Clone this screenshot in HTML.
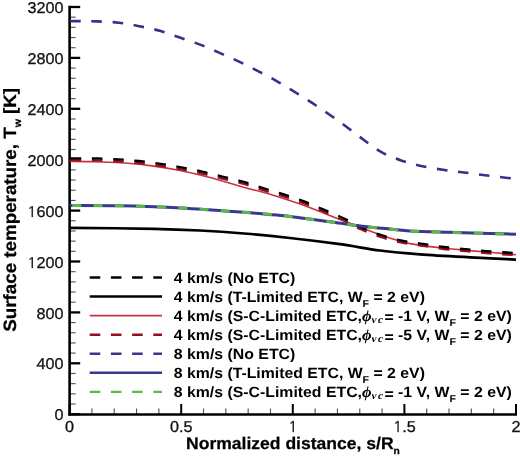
<!DOCTYPE html>
<html><head><meta charset="utf-8"><style>
html,body{margin:0;padding:0;background:#fff;}
svg{display:block;filter:blur(0.4px);}
text{font-family:"Liberation Sans",Arial,sans-serif;text-rendering:geometricPrecision;}
.one{font-family:"NanumGothic","Liberation Sans",sans-serif;font-size:0.94em;}
.tl{font-size:15.6px;fill:#111;stroke:#111;stroke-width:0.3px;}
.leg{font-size:14.8px;font-weight:bold;fill:#000;}
.sub{font-size:10px;}
.phi{font-family:"Liberation Serif",serif;font-style:italic;font-weight:bold;font-size:15.5px;}
.vc{font-family:"Liberation Serif",serif;font-style:italic;font-weight:bold;font-size:10.6px;letter-spacing:1.3px;}
.ttl{font-size:16.8px;font-weight:bold;fill:#000;stroke:#000;stroke-width:0.25px;}
.ttl.yt{font-size:17.8px;}
</style></head><body>
<svg width="520" height="456" viewBox="0 0 520 456">
<rect width="520" height="456" fill="#fff"/>
<g><line x1="69.60" y1="414.20" x2="80.2" y2="414.20" stroke="#000" stroke-width="2.3"/><line x1="69.60" y1="404.02" x2="75.6" y2="404.02" stroke="#555" stroke-width="1.15"/><line x1="69.60" y1="393.84" x2="75.6" y2="393.84" stroke="#555" stroke-width="1.15"/><line x1="69.60" y1="383.66" x2="75.6" y2="383.66" stroke="#555" stroke-width="1.15"/><line x1="69.60" y1="373.48" x2="75.6" y2="373.48" stroke="#555" stroke-width="1.15"/><line x1="69.60" y1="363.30" x2="80.2" y2="363.30" stroke="#000" stroke-width="2.3"/><line x1="69.60" y1="353.12" x2="75.6" y2="353.12" stroke="#555" stroke-width="1.15"/><line x1="69.60" y1="342.94" x2="75.6" y2="342.94" stroke="#555" stroke-width="1.15"/><line x1="69.60" y1="332.76" x2="75.6" y2="332.76" stroke="#555" stroke-width="1.15"/><line x1="69.60" y1="322.58" x2="75.6" y2="322.58" stroke="#555" stroke-width="1.15"/><line x1="69.60" y1="312.40" x2="80.2" y2="312.40" stroke="#000" stroke-width="2.3"/><line x1="69.60" y1="302.22" x2="75.6" y2="302.22" stroke="#555" stroke-width="1.15"/><line x1="69.60" y1="292.04" x2="75.6" y2="292.04" stroke="#555" stroke-width="1.15"/><line x1="69.60" y1="281.86" x2="75.6" y2="281.86" stroke="#555" stroke-width="1.15"/><line x1="69.60" y1="271.68" x2="75.6" y2="271.68" stroke="#555" stroke-width="1.15"/><line x1="69.60" y1="261.50" x2="80.2" y2="261.50" stroke="#000" stroke-width="2.3"/><line x1="69.60" y1="251.32" x2="75.6" y2="251.32" stroke="#555" stroke-width="1.15"/><line x1="69.60" y1="241.14" x2="75.6" y2="241.14" stroke="#555" stroke-width="1.15"/><line x1="69.60" y1="230.96" x2="75.6" y2="230.96" stroke="#555" stroke-width="1.15"/><line x1="69.60" y1="220.78" x2="75.6" y2="220.78" stroke="#555" stroke-width="1.15"/><line x1="69.60" y1="210.60" x2="80.2" y2="210.60" stroke="#000" stroke-width="2.3"/><line x1="69.60" y1="200.42" x2="75.6" y2="200.42" stroke="#555" stroke-width="1.15"/><line x1="69.60" y1="190.24" x2="75.6" y2="190.24" stroke="#555" stroke-width="1.15"/><line x1="69.60" y1="180.06" x2="75.6" y2="180.06" stroke="#555" stroke-width="1.15"/><line x1="69.60" y1="169.88" x2="75.6" y2="169.88" stroke="#555" stroke-width="1.15"/><line x1="69.60" y1="159.70" x2="80.2" y2="159.70" stroke="#000" stroke-width="2.3"/><line x1="69.60" y1="149.52" x2="75.6" y2="149.52" stroke="#555" stroke-width="1.15"/><line x1="69.60" y1="139.34" x2="75.6" y2="139.34" stroke="#555" stroke-width="1.15"/><line x1="69.60" y1="129.16" x2="75.6" y2="129.16" stroke="#555" stroke-width="1.15"/><line x1="69.60" y1="118.98" x2="75.6" y2="118.98" stroke="#555" stroke-width="1.15"/><line x1="69.60" y1="108.80" x2="80.2" y2="108.80" stroke="#000" stroke-width="2.3"/><line x1="69.60" y1="98.62" x2="75.6" y2="98.62" stroke="#555" stroke-width="1.15"/><line x1="69.60" y1="88.44" x2="75.6" y2="88.44" stroke="#555" stroke-width="1.15"/><line x1="69.60" y1="78.26" x2="75.6" y2="78.26" stroke="#555" stroke-width="1.15"/><line x1="69.60" y1="68.08" x2="75.6" y2="68.08" stroke="#555" stroke-width="1.15"/><line x1="69.60" y1="57.90" x2="80.2" y2="57.90" stroke="#000" stroke-width="2.3"/><line x1="69.60" y1="47.72" x2="75.6" y2="47.72" stroke="#555" stroke-width="1.15"/><line x1="69.60" y1="37.54" x2="75.6" y2="37.54" stroke="#555" stroke-width="1.15"/><line x1="69.60" y1="27.36" x2="75.6" y2="27.36" stroke="#555" stroke-width="1.15"/><line x1="69.60" y1="17.18" x2="75.6" y2="17.18" stroke="#555" stroke-width="1.15"/><line x1="69.60" y1="7.00" x2="80.2" y2="7.00" stroke="#000" stroke-width="2.3"/><line x1="69.60" y1="414.20" x2="69.60" y2="404" stroke="#000" stroke-width="2"/><line x1="91.92" y1="414.20" x2="91.92" y2="408.5" stroke="#555" stroke-width="1.15"/><line x1="114.24" y1="414.20" x2="114.24" y2="408.5" stroke="#555" stroke-width="1.15"/><line x1="136.56" y1="414.20" x2="136.56" y2="408.5" stroke="#555" stroke-width="1.15"/><line x1="158.88" y1="414.20" x2="158.88" y2="408.5" stroke="#555" stroke-width="1.15"/><line x1="181.20" y1="414.20" x2="181.20" y2="404" stroke="#000" stroke-width="2"/><line x1="203.52" y1="414.20" x2="203.52" y2="408.5" stroke="#555" stroke-width="1.15"/><line x1="225.84" y1="414.20" x2="225.84" y2="408.5" stroke="#555" stroke-width="1.15"/><line x1="248.16" y1="414.20" x2="248.16" y2="408.5" stroke="#555" stroke-width="1.15"/><line x1="270.48" y1="414.20" x2="270.48" y2="408.5" stroke="#555" stroke-width="1.15"/><line x1="292.80" y1="414.20" x2="292.80" y2="404" stroke="#000" stroke-width="2"/><line x1="315.12" y1="414.20" x2="315.12" y2="408.5" stroke="#555" stroke-width="1.15"/><line x1="337.44" y1="414.20" x2="337.44" y2="408.5" stroke="#555" stroke-width="1.15"/><line x1="359.76" y1="414.20" x2="359.76" y2="408.5" stroke="#555" stroke-width="1.15"/><line x1="382.08" y1="414.20" x2="382.08" y2="408.5" stroke="#555" stroke-width="1.15"/><line x1="404.40" y1="414.20" x2="404.40" y2="404" stroke="#000" stroke-width="2"/><line x1="426.72" y1="414.20" x2="426.72" y2="408.5" stroke="#555" stroke-width="1.15"/><line x1="449.04" y1="414.20" x2="449.04" y2="408.5" stroke="#555" stroke-width="1.15"/><line x1="471.36" y1="414.20" x2="471.36" y2="408.5" stroke="#555" stroke-width="1.15"/><line x1="493.68" y1="414.20" x2="493.68" y2="408.5" stroke="#555" stroke-width="1.15"/><line x1="516.00" y1="414.20" x2="516.00" y2="404" stroke="#000" stroke-width="2"/></g>
<line x1="69.60" y1="5.8" x2="69.60" y2="415.6" stroke="#000" stroke-width="2.6"/>
<line x1="68.3" y1="414.45" x2="517" y2="414.45" stroke="#000" stroke-width="2.5"/>
<g class="tl"><text transform="translate(63.4,420.30) scale(1.038,1)" text-anchor="end">0</text><text transform="translate(63.4,369.40) scale(1.038,1)" text-anchor="end">400</text><text transform="translate(63.4,318.50) scale(1.038,1)" text-anchor="end">800</text><text transform="translate(63.4,267.60) scale(1.038,1)" text-anchor="end"><tspan class="one">1</tspan>200</text><text transform="translate(63.4,216.70) scale(1.038,1)" text-anchor="end"><tspan class="one">1</tspan>600</text><text transform="translate(63.4,165.80) scale(1.038,1)" text-anchor="end">2000</text><text transform="translate(63.4,114.90) scale(1.038,1)" text-anchor="end">2400</text><text transform="translate(63.4,64.00) scale(1.038,1)" text-anchor="end">2800</text><text transform="translate(63.4,13.10) scale(1.038,1)" text-anchor="end">3200</text><text style="font-size:15.8px" transform="translate(69.60,431.5) scale(1.025,1)" text-anchor="middle">0</text><text style="font-size:15.8px" transform="translate(181.20,431.5) scale(1.025,1)" text-anchor="middle">0.5</text><text style="font-size:15.8px" transform="translate(292.80,431.5) scale(1.025,1)" text-anchor="middle"><tspan class="one">1</tspan></text><text style="font-size:15.8px" transform="translate(404.40,431.5) scale(1.025,1)" text-anchor="middle"><tspan class="one">1</tspan>.5</text><text style="font-size:15.8px" transform="translate(516.00,431.5) scale(1.025,1)" text-anchor="middle">2</text></g>
<g>
 <path d="M69.60,227.80 C83.67,227.97 132.27,228.35 154.00,228.80 C175.73,229.25 185.00,229.72 200.00,230.50 C215.00,231.28 229.00,232.25 244.00,233.50 C259.00,234.75 274.00,236.22 290.00,238.00 C306.00,239.78 325.00,242.12 340.00,244.20 C355.00,246.28 366.67,248.82 380.00,250.50 C393.33,252.18 405.00,253.17 420.00,254.30 C435.00,255.43 454.00,256.42 470.00,257.30 C486.00,258.18 508.33,259.22 516.00,259.60" stroke="#000" stroke-width="2.7" fill="none"/>
<path d="M69.60,161.30 C73.00,161.35 81.60,161.35 90.00,161.60 C98.40,161.85 110.00,162.13 120.00,162.80 C130.00,163.47 140.00,164.32 150.00,165.60 C160.00,166.88 170.00,168.52 180.00,170.50 C190.00,172.48 200.00,174.87 210.00,177.50 C220.00,180.13 230.00,183.52 240.00,186.30 C250.00,189.08 260.00,191.25 270.00,194.20 C280.00,197.15 291.67,201.10 300.00,204.00 C308.33,206.90 313.33,209.02 320.00,211.60 C326.67,214.18 333.33,216.93 340.00,219.50 C346.67,222.07 352.50,224.17 360.00,227.00 C367.50,229.83 376.67,233.73 385.00,236.50 C393.33,239.27 400.83,241.72 410.00,243.60 C419.17,245.48 430.00,246.63 440.00,247.80 C450.00,248.97 460.83,249.77 470.00,250.60 C479.17,251.43 487.33,252.10 495.00,252.80 C502.67,253.50 512.50,254.47 516.00,254.80" stroke="#c8343f" stroke-width="1.6" fill="none"/>
<path d="M69.60,160.30 C71.33,160.30 75.43,160.28 80.00,160.30 C84.57,160.32 90.67,160.23 97.00,160.40 C103.33,160.57 111.00,160.87 118.00,161.30 C125.00,161.73 131.88,162.23 139.00,163.00 C146.12,163.77 153.62,164.83 160.70,165.90 C167.78,166.97 174.62,168.13 181.50,169.40 C188.38,170.67 195.20,171.98 202.00,173.50 C208.80,175.02 215.47,176.80 222.30,178.50 C229.13,180.20 236.22,181.78 243.00,183.70 C249.78,185.62 256.30,187.92 263.00,190.00 C269.70,192.08 276.45,194.00 283.20,196.20 C289.95,198.40 296.83,200.67 303.50,203.20 C310.17,205.73 316.62,208.60 323.20,211.40 C329.78,214.20 336.62,216.98 343.00,220.00 C349.38,223.02 355.10,226.63 361.50,229.50 C367.90,232.37 374.65,235.02 381.40,237.20 C388.15,239.38 395.10,241.17 402.00,242.60 C408.90,244.03 415.87,244.73 422.80,245.80 C429.73,246.87 436.53,248.12 443.60,249.00 C450.67,249.88 458.05,250.42 465.20,251.10 C472.35,251.78 479.50,252.53 486.50,253.10 C493.50,253.67 502.28,254.17 507.20,254.50 C512.12,254.83 514.53,255.00 516.00,255.10" stroke="#941020" stroke-width="2.4" fill="none" stroke-dasharray="10.6 10.6" stroke-dashoffset="-1.2"/>
<path d="M69.60,158.30 C71.33,158.30 75.43,158.28 80.00,158.30 C84.57,158.32 90.67,158.23 97.00,158.40 C103.33,158.57 111.00,158.87 118.00,159.30 C125.00,159.73 131.88,160.23 139.00,161.00 C146.12,161.77 153.62,162.83 160.70,163.90 C167.78,164.97 174.62,166.13 181.50,167.40 C188.38,168.67 195.20,169.98 202.00,171.50 C208.80,173.02 215.47,174.80 222.30,176.50 C229.13,178.20 236.22,179.78 243.00,181.70 C249.78,183.62 256.30,185.92 263.00,188.00 C269.70,190.08 276.45,192.00 283.20,194.20 C289.95,196.40 296.83,198.67 303.50,201.20 C310.17,203.73 316.62,206.60 323.20,209.40 C329.78,212.20 336.62,214.98 343.00,218.00 C349.38,221.02 355.10,224.63 361.50,227.50 C367.90,230.37 374.65,233.02 381.40,235.20 C388.15,237.38 395.10,239.17 402.00,240.60 C408.90,242.03 415.87,242.73 422.80,243.80 C429.73,244.87 436.53,246.12 443.60,247.00 C450.67,247.88 458.05,248.42 465.20,249.10 C472.35,249.78 479.50,250.53 486.50,251.10 C493.50,251.67 502.28,252.17 507.20,252.50 C512.12,252.83 514.53,253.00 516.00,253.10" stroke="#000" stroke-width="2.3" fill="none" stroke-dasharray="10.6 10.6" stroke-dashoffset="-1.2"/>
<path d="M69.60,205.50 C78.00,205.55 102.93,205.47 120.00,205.80 C137.07,206.13 154.50,206.63 172.00,207.50 C189.50,208.37 207.50,209.73 225.00,211.00 C242.50,212.27 259.50,213.30 277.00,215.10 C294.50,216.90 315.33,219.88 330.00,221.80 C344.67,223.72 355.83,225.48 365.00,226.60 C374.17,227.72 377.50,227.78 385.00,228.50 C392.50,229.22 399.17,230.27 410.00,230.90 C420.83,231.53 436.67,231.87 450.00,232.30 C463.33,232.73 479.00,233.18 490.00,233.50 C501.00,233.82 511.67,234.08 516.00,234.20" stroke="#38388f" stroke-width="3" fill="none"/>
<path d="M69.60,205.50 C78.00,205.55 102.93,205.47 120.00,205.80 C137.07,206.13 154.50,206.63 172.00,207.50 C189.50,208.37 207.50,209.73 225.00,211.00 C242.50,212.27 259.50,213.30 277.00,215.10 C294.50,216.90 315.33,219.88 330.00,221.80 C344.67,223.72 355.83,225.48 365.00,226.60 C374.17,227.72 377.50,227.78 385.00,228.50 C392.50,229.22 399.17,230.27 410.00,230.90 C420.83,231.53 436.67,231.87 450.00,232.30 C463.33,232.73 479.00,233.18 490.00,233.50 C501.00,233.82 511.67,234.08 516.00,234.20" stroke="#5cb84a" stroke-width="3" fill="none" stroke-dasharray="9 12.2" stroke-dashoffset="-2.8"/>
 <path d="M69.60,21.10 C71.33,21.10 75.43,21.05 80.00,21.10 C84.57,21.15 90.58,21.13 97.00,21.40 C103.42,21.67 111.45,21.90 118.50,22.70 C125.55,23.50 132.42,24.85 139.30,26.20 C146.18,27.55 153.05,28.90 159.80,30.80 C166.55,32.70 173.10,35.30 179.80,37.60 C186.50,39.90 193.37,42.05 200.00,44.60 C206.63,47.15 213.10,50.07 219.60,52.90 C226.10,55.73 232.60,58.57 239.00,61.60 C245.40,64.63 251.72,67.85 258.00,71.10 C264.28,74.35 270.60,77.63 276.70,81.10 C282.80,84.57 288.63,88.22 294.60,91.90 C300.57,95.58 306.60,99.35 312.50,103.20 C318.40,107.05 324.25,111.00 330.00,115.00 C335.75,119.00 341.30,123.00 347.00,127.20 C352.70,131.40 358.45,136.03 364.20,140.20 C369.95,144.37 375.37,148.83 381.50,152.20 C387.63,155.57 394.42,158.12 401.00,160.40 C407.58,162.68 414.00,164.33 421.00,165.90 C428.00,167.47 435.83,168.70 443.00,169.80 C450.17,170.90 457.00,171.60 464.00,172.50 C471.00,173.40 478.08,174.33 485.00,175.20 C491.92,176.07 500.33,177.13 505.50,177.70 C510.67,178.27 514.25,178.45 516.00,178.60" stroke="#34318a" stroke-width="2.6" fill="none" stroke-dasharray="10.6 10.6" stroke-dashoffset="-0.6"/>
</g>
<g><line x1="89.7" y1="277.50" x2="162" y2="277.50" stroke="#000" stroke-width="2.3" stroke-dasharray="10.6 10.6"/><text class="leg" transform="translate(173.8,282.50) scale(1.071,1)">4 km/s (No ETC)</text><line x1="89.7" y1="296.57" x2="162" y2="296.57" stroke="#000" stroke-width="2.6"/><text class="leg" transform="translate(173.8,301.57) scale(1.068,1)">4 km/s (T-Limited ETC, W<tspan class="sub" dy="5.3">F</tspan><tspan dy="-5.3"> = 2 eV)</tspan></text><line x1="89.7" y1="315.64" x2="162" y2="315.64" stroke="#c8343f" stroke-width="1.6"/><text class="leg" transform="translate(173.8,320.64) scale(1.0695,1)">4 km/s (S-C-Limited ETC,<tspan class="phi">ϕ</tspan><tspan class="vc" dy="2">vc</tspan><tspan dy="-0.2">=</tspan><tspan dy="-1.8"> -1 V, W</tspan><tspan class="sub" dy="5.3">F</tspan><tspan dy="-5.3"> = 2 eV)</tspan></text><line x1="89.7" y1="334.71" x2="162" y2="334.71" stroke="#941020" stroke-width="2.4" stroke-dasharray="10.6 10.6"/><text class="leg" transform="translate(173.8,339.71) scale(1.0695,1)">4 km/s (S-C-Limited ETC,<tspan class="phi">ϕ</tspan><tspan class="vc" dy="2">vc</tspan><tspan dy="-0.2">=</tspan><tspan dy="-1.8"> -5 V, W</tspan><tspan class="sub" dy="5.3">F</tspan><tspan dy="-5.3"> = 2 eV)</tspan></text><line x1="89.7" y1="353.78" x2="162" y2="353.78" stroke="#38388f" stroke-width="2.4" stroke-dasharray="10.6 10.6"/><text class="leg" transform="translate(173.8,358.78) scale(1.071,1)">8 km/s (No ETC)</text><line x1="89.7" y1="372.85" x2="162" y2="372.85" stroke="#38388f" stroke-width="2.5"/><text class="leg" transform="translate(173.8,377.85) scale(1.068,1)">8 km/s (T-Limited ETC, W<tspan class="sub" dy="5.3">F</tspan><tspan dy="-5.3"> = 2 eV)</tspan></text><line x1="89.7" y1="391.92" x2="162" y2="391.92" stroke="#5cb84a" stroke-width="2.4" stroke-dasharray="10.6 10.6"/><text class="leg" transform="translate(173.8,396.92) scale(1.0695,1)">8 km/s (S-C-Limited ETC,<tspan class="phi">ϕ</tspan><tspan class="vc" dy="2">vc</tspan><tspan dy="-0.2">=</tspan><tspan dy="-1.8"> -1 V, W</tspan><tspan class="sub" dy="5.3">F</tspan><tspan dy="-5.3"> = 2 eV)</tspan></text></g>
<text class="ttl" transform="translate(186,449.1) scale(1.045,1)">Normalized distance, s/R<tspan class="sub" style="font-size:9.8px" dy="5">n</tspan></text>
<text class="ttl yt" transform="translate(16.2,331.7) rotate(-90) scale(1.055,1)">Surface temperature, T<tspan class="sub" style="font-size:10px" dy="5">w</tspan><tspan dy="-5"> [K]</tspan></text>
</svg>
</body></html>
